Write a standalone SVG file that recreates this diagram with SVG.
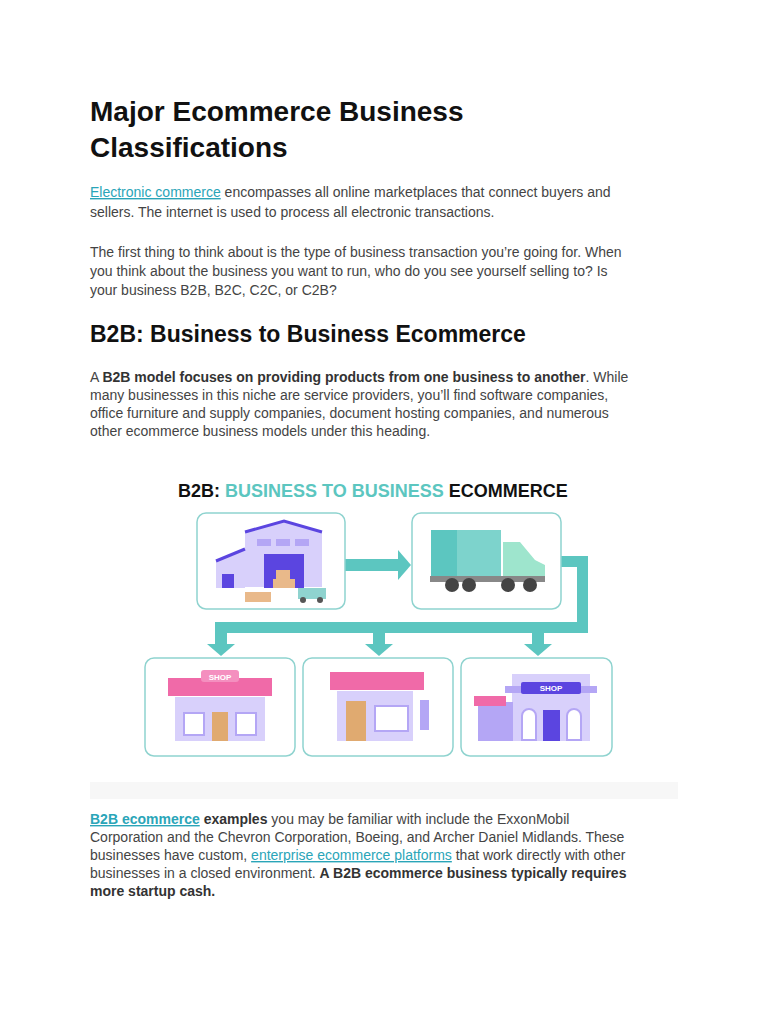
<svg xmlns="http://www.w3.org/2000/svg" width="768" height="1024" viewBox="0 0 768 1024">
<style>
.t{font-family:"Liberation Sans",Arial,sans-serif;fill:#444;font-size:14px}
.h{font-family:"Liberation Sans",Arial,sans-serif;fill:#111}
.b{font-weight:bold;fill:#333}
.lnk{fill:#2aa5b8;text-decoration:underline}
.box{fill:#fff;stroke:#8fd3cf;stroke-width:1.5}
.conn{fill:#5cc6c0}
</style>
<rect width="768" height="1024" fill="#fff"/>
<text class="h" x="90" y="121" font-size="28" font-weight="bold">Major Ecommerce Business</text>
<text class="h" x="90" y="157" font-size="28" font-weight="bold">Classifications</text>
<text class="t" x="90" y="197"><tspan class="lnk">Electronic commerce</tspan> encompasses all online marketplaces that connect buyers and</text>
<text class="t" x="90" y="217">sellers. The internet is used to process all electronic transactions.</text>
<text class="t" x="90" y="257">The first thing to think about is the type of business transaction you’re going for. When</text>
<text class="t" x="90" y="276">you think about the business you want to run, who do you see yourself selling to? Is</text>
<text class="t" x="90" y="295">your business B2B, B2C, C2C, or C2B?</text>
<text class="h" x="90" y="342" font-size="23" font-weight="bold">B2B: Business to Business Ecommerce</text>
<text class="t" x="90" y="382">A <tspan class="b">B2B model focuses on providing products from one business to another</tspan>. While</text>
<text class="t" x="90" y="400">many businesses in this niche are service providers, you’ll find software companies,</text>
<text class="t" x="90" y="418">office furniture and supply companies, document hosting companies, and numerous</text>
<text class="t" x="90" y="436">other ecommerce business models under this heading.</text>
<text class="h" x="178" y="497" font-size="18" font-weight="bold">B2B: <tspan fill="#5cc6c0">BUSINESS TO BUSINESS</tspan> ECOMMERCE</text>
<g id="connectors">
<rect class="conn" x="345" y="559" width="54" height="12"/>
<polygon class="conn" points="398,550 411,565 398,580"/>
<polygon class="conn" points="561,556 588,556 588,633 215,633 215,622 577,622 577,567 561,567"/>
<rect class="conn" x="215" y="622" width="12" height="25"/>
<polygon class="conn" points="207,644 235,644 221,656"/>
<rect class="conn" x="373" y="630" width="12" height="16"/>
<polygon class="conn" points="365,644 393,644 379,656"/>
<rect class="conn" x="532" y="630" width="12" height="16"/>
<polygon class="conn" points="524,644 552,644 538,656"/>
</g>
<g id="warehouse">
<rect class="box" x="197" y="513" width="148" height="96" rx="9"/>
<polygon points="245,532 284,521 322,532 322,587 245,587" fill="#d8d0fb"/>
<polyline points="245,532 284,521 322,532" fill="none" stroke="#5b45e0" stroke-width="3"/>
<polygon points="216,561 245,549 245,588 216,588" fill="#d8d0fb"/>
<polyline points="216,561 245,549" fill="none" stroke="#5b45e0" stroke-width="3"/>
<rect x="222" y="574" width="12" height="14" fill="#5b45e0"/>
<rect x="257" y="539" width="14" height="7" fill="#b4a6f5"/><rect x="276" y="539" width="14" height="7" fill="#b4a6f5"/><rect x="295" y="539" width="14" height="7" fill="#b4a6f5"/>
<rect x="264" y="554" width="40" height="34" fill="#5b45e0"/>
<rect x="276" y="570" width="14" height="10" fill="#e9b98a"/><rect x="273" y="579" width="22" height="9" fill="#e9b98a"/>
<rect x="245" y="592" width="26" height="10" fill="#e9b98a"/>
<rect x="298" y="588" width="28" height="11" fill="#8fd3cf"/>
<circle cx="303" cy="600" r="3" fill="#555"/><circle cx="320" cy="600" r="3" fill="#555"/>
</g>
<g id="truck">
<rect class="box" x="412" y="513" width="149" height="96" rx="9"/>
<rect x="431" y="530" width="70" height="50" fill="#5cc6c0"/>
<rect x="457" y="530" width="44" height="50" fill="#7dd3cc"/>
<path d="M503 542 L520 542 L535 560 L545 565 L545 582 L503 582 Z" fill="#9ee5cd"/>
<rect x="430" y="576" width="115" height="6" fill="#888"/>
<circle cx="452" cy="585" r="7" fill="#444"/><circle cx="469" cy="585" r="7" fill="#444"/>
<circle cx="508" cy="585" r="7" fill="#444"/><circle cx="530" cy="585" r="7" fill="#444"/>
</g>
<g id="shop1">
<rect class="box" x="145" y="658" width="150" height="98" rx="9"/>
<rect x="175" y="697" width="90" height="44" fill="#d8d0fb"/>
<rect x="168" y="678" width="104" height="18" fill="#f06aa8"/>
<rect x="201" y="670" width="38" height="12" rx="3" fill="#f48fbf"/>
<text x="220" y="680" font-family="Liberation Sans,sans-serif" font-size="8" fill="#fff" text-anchor="middle" font-weight="bold">SHOP</text>
<rect x="184" y="713" width="20" height="22" fill="#fff" stroke="#b4a6f5" stroke-width="2"/>
<rect x="236" y="713" width="20" height="22" fill="#fff" stroke="#b4a6f5" stroke-width="2"/>
<rect x="212" y="712" width="16" height="29" fill="#e0aa70"/>
</g>
<g id="shop2">
<rect class="box" x="303" y="658" width="150" height="98" rx="9"/>
<rect x="337" y="691" width="76" height="50" fill="#d8d0fb"/>
<rect x="330" y="672" width="94" height="18" fill="#f06aa8"/>
<rect x="346" y="701" width="20" height="40" fill="#e0aa70"/>
<rect x="375" y="706" width="33" height="25" fill="#fff" stroke="#b4a6f5" stroke-width="2"/>
<rect x="420" y="700" width="9" height="30" fill="#b4a6f5"/>
</g>
<g id="shop3">
<rect class="box" x="461" y="658" width="151" height="98" rx="9"/>
<rect x="512" y="674" width="78" height="67" fill="#d8d0fb"/>
<rect x="505" y="686" width="92" height="7" fill="#b4a6f5"/>
<rect x="521" y="682" width="60" height="12" rx="2" fill="#5b45e0"/>
<text x="551" y="691" font-family="Liberation Sans,sans-serif" font-size="8" fill="#fff" text-anchor="middle" font-weight="bold">SHOP</text>
<rect x="478" y="702" width="35" height="39" fill="#b4a6f5"/>
<rect x="474" y="696" width="32" height="10" fill="#f06aa8"/>
<rect x="543" y="710" width="17" height="31" fill="#5b45e0"/>
<path d="M522 740 V716 a7 7 0 0 1 14 0 V740 Z M567 740 V716 a7 7 0 0 1 14 0 V740 Z" fill="#fff" stroke="#b4a6f5" stroke-width="2"/>
</g>
<rect x="90" y="782" width="588" height="17" fill="#f7f7f7"/>
<text class="t" x="90" y="824"><tspan class="b lnk">B2B ecommerce</tspan> <tspan class="b">examples</tspan> you may be familiar with include the ExxonMobil</text>
<text class="t" x="90" y="842">Corporation and the Chevron Corporation, Boeing, and Archer Daniel Midlands. These</text>
<text class="t" x="90" y="860">businesses have custom, <tspan class="lnk">enterprise ecommerce platforms</tspan> that work directly with other</text>
<text class="t" x="90" y="878">businesses in a closed environment. <tspan class="b">A B2B ecommerce business typically requires</tspan></text>
<text class="t b" x="90" y="896">more startup cash.</text>
</svg>
